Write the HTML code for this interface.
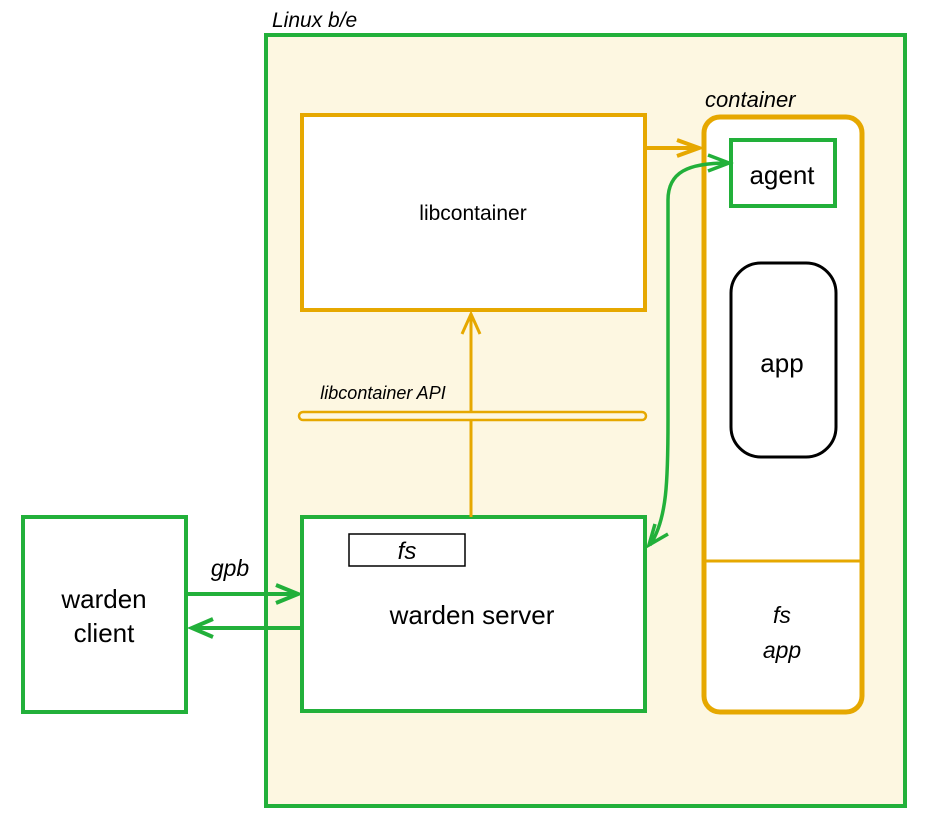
<!DOCTYPE html>
<html><head><style>body{margin:0;background:#fff}svg{display:block}text{font-family:"Liberation Sans",sans-serif}</style></head><body>
<svg width="927" height="837" viewBox="0 0 927 837" xmlns="http://www.w3.org/2000/svg">
<rect x="266" y="35" width="639" height="771" fill="#fdf7e1" stroke="#22b03a" stroke-width="4"/>
<text x="272" y="27" font-size="21" font-style="italic">Linux b/e</text>
<rect x="302" y="115" width="343" height="195" fill="#fff" stroke="#e6a800" stroke-width="4"/>
<text x="473" y="220" font-size="21" text-anchor="middle">libcontainer</text>
<rect x="704" y="117" width="158" height="595" rx="16" fill="#fff" stroke="#e6a800" stroke-width="5"/>
<line x1="704" y1="561" x2="862" y2="561" stroke="#e6a800" stroke-width="3"/>
<text x="705" y="107" font-size="22" font-style="italic">container</text>
<rect x="731" y="140" width="104" height="66" fill="#fff" stroke="#22b03a" stroke-width="4"/>
<text x="782" y="184" font-size="26" text-anchor="middle">agent</text>
<rect x="731" y="263" width="105" height="194" rx="30" fill="#fff" stroke="#000" stroke-width="3"/>
<text x="782" y="372" font-size="26" text-anchor="middle">app</text>
<text x="782" y="623" font-size="23" font-style="italic" text-anchor="middle">fs</text>
<text x="782" y="658" font-size="23" font-style="italic" text-anchor="middle">app</text>
<rect x="302" y="517" width="343" height="194" fill="#fff" stroke="#22b03a" stroke-width="4"/>
<rect x="349" y="534" width="116" height="32" fill="#fff" stroke="#000" stroke-width="1.5"/>
<text x="407" y="559" font-size="24" font-style="italic" text-anchor="middle">fs</text>
<text x="472" y="624" font-size="26" text-anchor="middle">warden server</text>
<rect x="23" y="517" width="163" height="195" fill="#fff" stroke="#22b03a" stroke-width="4"/>
<text x="104" y="608" font-size="26" text-anchor="middle">warden</text>
<text x="104" y="642" font-size="26" text-anchor="middle">client</text>
<text x="230" y="576" font-size="23" font-style="italic" text-anchor="middle">gpb</text>
<line x1="186" y1="594" x2="298" y2="594" stroke="#22b03a" stroke-width="4"/>
<polyline points="276,585 298,594 276,603" fill="none" stroke="#22b03a" stroke-width="4"/>
<line x1="300" y1="628" x2="192" y2="628" stroke="#22b03a" stroke-width="4"/>
<polyline points="213,619 192,628 213,637" fill="none" stroke="#22b03a" stroke-width="4"/>
<line x1="471" y1="517" x2="471" y2="314" stroke="#e6a800" stroke-width="3"/>
<polyline points="462,334 471,314 480,334" fill="none" stroke="#e6a800" stroke-width="3"/>
<rect x="299" y="412" width="347" height="8" rx="4" fill="#fdf7e1" stroke="#e6a800" stroke-width="2.5"/>
<text x="383" y="399" font-size="18" font-style="italic" text-anchor="middle">libcontainer API</text>
<line x1="645" y1="148" x2="699" y2="148" stroke="#e6a800" stroke-width="4"/>
<polyline points="677,140 699,148 677,156" fill="none" stroke="#e6a800" stroke-width="4"/>
<path d="M650,545 C667,520 668,480 668,420 L668,200 C668,172 688,163 728,163" fill="none" stroke="#22b03a" stroke-width="3.5"/>
<polyline points="708,155 729,163 708,171" fill="none" stroke="#22b03a" stroke-width="3.5"/>
<polyline points="655,524 649,545 668,534" fill="none" stroke="#22b03a" stroke-width="3.5"/>
</svg>
</body></html>
